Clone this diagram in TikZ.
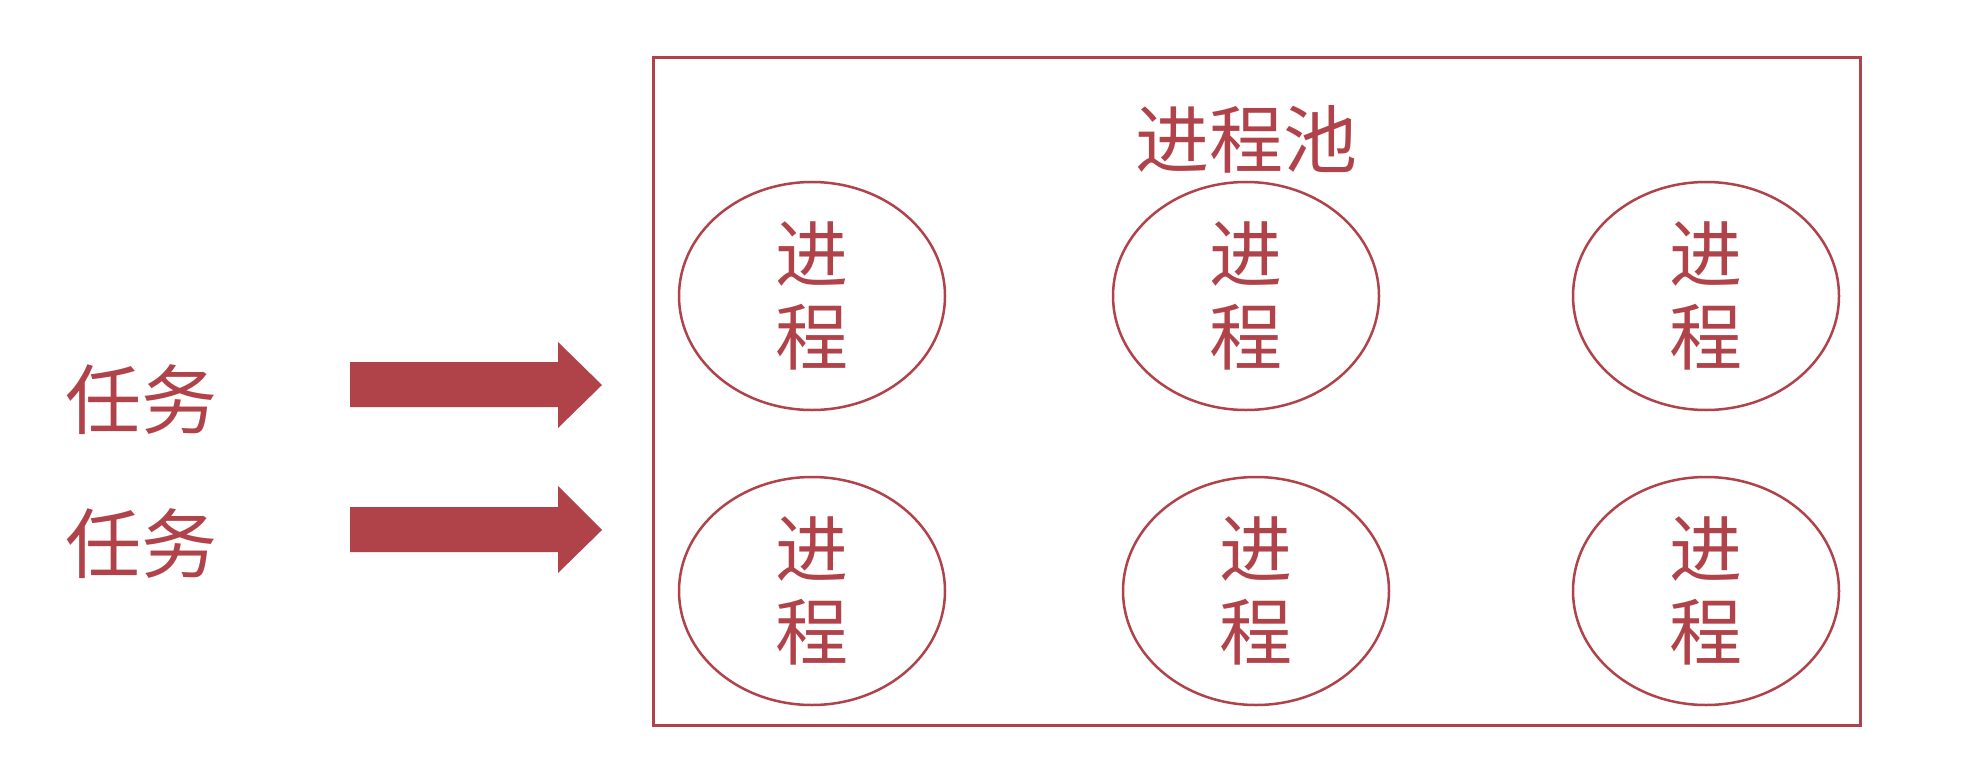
\documentclass[tikz,border=0pt]{standalone}
\usepackage{fontspec}
\newfontfamily\cjk{Noto Sans CJK SC}
\usetikzlibrary{shapes.geometric}
\definecolor{pr}{HTML}{B0434A}
\begin{document}
\begin{tikzpicture}[x=1pt,y=-1pt,
  proc/.style={ellipse,draw=pr,line width=2.5pt,minimum width=266pt,minimum height=228pt,inner sep=0pt,
    text=pr,font=\cjk\fontsize{73}{86}\selectfont,align=center},
  lbl/.style={text=pr,font=\cjk\fontsize{74}{80}\selectfont,inner sep=0pt},
  blockarrow/.style={fill=pr}]
\useasboundingbox[fill=white] (0,0) rectangle (1961,770);
\node[draw=pr,line width=3pt,minimum width=1207pt,minimum height=667pt,inner sep=0pt] (pool) at (1256.5,391.5) {};
\node[lbl] (title) at (1246,139) {进程池};
\node[proc] (p1) at (812,296) {\raisebox{-6pt}{进}\\\raisebox{-3pt}{程}};
\node[proc] (p2) at (1246,296) {\raisebox{-6pt}{进}\\\raisebox{-3pt}{程}};
\node[proc] (p3) at (1706,296) {\raisebox{-6pt}{进}\\\raisebox{-3pt}{程}};
\node[proc] (p4) at (812,591) {\raisebox{-6pt}{进}\\\raisebox{-3pt}{程}};
\node[proc] (p5) at (1256,591) {\raisebox{-6pt}{进}\\\raisebox{-3pt}{程}};
\node[proc] (p6) at (1706,591) {\raisebox{-6pt}{进}\\\raisebox{-3pt}{程}};
\node[lbl,font=\cjk\fontsize{76}{80}\selectfont] (t1) at (141,400) {任务};
\node[lbl,font=\cjk\fontsize{76}{80}\selectfont] (t2) at (141,544) {任务};
\fill[blockarrow] (350,362) -- (558,362) -- (558,342) -- (602,385) -- (558,428) -- (558,407) -- (350,407) -- cycle;
\fill[blockarrow] (350,507) -- (558,507) -- (558,486) -- (602,530) -- (558,573) -- (558,552) -- (350,552) -- cycle;
\end{tikzpicture}
\end{document}
